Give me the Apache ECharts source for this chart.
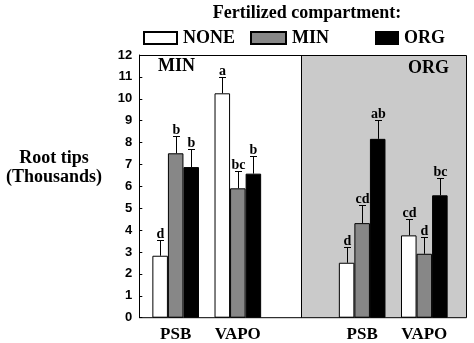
<!DOCTYPE html>
<html>
<head>
<meta charset="utf-8">
<script src="https://cdn.jsdelivr.net/npm/echarts@6/dist/echarts.min.js"></script>
<style>html,body{margin:0;padding:0;background:#fff;}#c{width:474px;height:343px;}</style>
</head>
<body>
<div id="c"></div>
<script>
// ---- data ----
var categories = ['PSB', 'VAPO', '', 'PSB', 'VAPO'];
var seriesNames = ['NONE', 'MIN', 'ORG'];
var noneValues = [2.83, 10.25, null, 2.51, 3.76];
var minValues  = [7.51, 5.91, null, 4.32, 2.92];
var orgValues  = [6.88, 6.58, null, 8.17, 5.59];
var noneSE = [0.72, 0.73, null, 0.70, 0.73];
var minSE  = [0.80, 0.79, null, 0.83, 0.78];
var orgSE  = [0.82, 0.82, null, 0.86, 0.78];
var noneLetters = ['d', 'a', '', 'd', 'cd'];
var minLetters  = ['b', 'bc', '', 'cd', 'd'];
var orgLetters  = ['b', 'b', '', 'ab', 'bc'];
var yTicks = [0,1,2,3,4,5,6,7,8,9,10,11,12];

var values = [noneValues, minValues, orgValues];
var ses = [noneSE, minSE, orgSE];
var letters = [noneLetters, minLetters, orgLetters];
var colors = ['#ffffff', '#878787', '#000000'];
var SERIF = '"Liberation Serif", "Times New Roman", serif';
var CAT_GAP = 0.25;

var chart = echarts.init(document.getElementById('c'), null, {renderer: 'canvas'});

var series = [];
seriesNames.forEach(function (name, g) {
  series.push({
    name: name,
    type: 'bar',
    data: values[g],
    barGap: '0%',
    barCategoryGap: (CAT_GAP * 100) + '%',
    itemStyle: {color: colors[g], borderColor: '#000', borderWidth: 1},
    emphasis: {disabled: true},
    z: 3
  });
});
seriesNames.forEach(function (name, g) {
  series.push({
    type: 'custom',
    name: name + ' err',
    data: values[g].map(function (v, i) { return v == null ? [i, null] : [i, v + ses[g][i]]; }),
    z: 5,
    renderItem: function (params, api) {
      var i = params.dataIndex;
      var v = values[g][i];
      if (v == null) return;
      var band = api.size([1, 0])[0];
      var barW = band * (1 - CAT_GAP) / 3;
      var base = api.coord([i, v]);
      var top = api.coord([i, v + ses[g][i]]);
      var x = Math.round(base[0] + (g - 1) * barW) + 0.5;
      var ty = Math.round(top[1]) + 0.5;
      var half = 3.5;
      return {
        type: 'group',
        children: [
          {type: 'line', shape: {x1: x, y1: base[1], x2: x, y2: ty}, style: {stroke: '#000', lineWidth: 1}},
          {type: 'line', shape: {x1: x - half, y1: ty, x2: x + half, y2: ty}, style: {stroke: '#000', lineWidth: 1}},
          {type: 'text', x: x, y: ty + 1, style: {text: letters[g][i], fill: '#000', font: 'bold 14px ' + SERIF, align: 'center', verticalAlign: 'bottom'}}
        ]
      };
    }
  });
});

var legendBase = {
  orient: 'horizontal', padding: 0, icon: 'rect', itemHeight: 12, selectedMode: false,
  textStyle: {fontFamily: SERIF, fontWeight: 'bold', fontSize: 18, color: '#000', padding: [0,0,0,1]}
};

chart.setOption({
  animation: false,
  backgroundColor: '#fff',
  grid: {left: 144.6, right: 18.6, top: 55, bottom: 25.3, containLabel: false},
  legend: [
    Object.assign({}, legendBase, {data: ['NONE'], left: 143, top: 29, itemWidth: 33}),
    Object.assign({}, legendBase, {data: ['MIN'], left: 250, top: 29, itemWidth: 35}),
    Object.assign({}, legendBase, {data: ['ORG'], left: 375, top: 29, itemWidth: 22})
  ],
  xAxis: {
    type: 'category',
    data: categories,
    axisLine: {show: false},
    axisTick: {show: false},
    axisLabel: {margin: 8, color: '#000', fontFamily: SERIF, fontWeight: 'bold', fontSize: 17, interval: 0}
  },
  yAxis: {
    type: 'value', min: yTicks[0], max: yTicks[yTicks.length - 1], interval: 1,
    offset: 5.3,
    axisLine: {show: true, lineStyle: {color: '#000', width: 1}},
    axisTick: {show: true, inside: true, length: 3, lineStyle: {color: '#000'}},
    splitLine: {show: false},
    axisLabel: {margin: 7, color: '#000', fontFamily: '"Liberation Sans", Arial, sans-serif', fontWeight: 'bold', fontSize: 13}
  },
  graphic: [
    {type: 'rect', z: 0, shape: {x: 301.5, y: 55, width: 165, height: 262.7}, style: {fill: '#cacaca'}},
    {type: 'rect', z: 100, shape: {x: 139.5, y: 55.5, width: 327, height: 262.2}, style: {fill: 'none', stroke: '#000', lineWidth: 1}},
    {type: 'line', z: 100, shape: {x1: 301.5, y1: 55.5, x2: 301.5, y2: 317.7}, style: {stroke: '#000', lineWidth: 1}},
    {type: 'text', z: 100, x: 158, y: 66.5, style: {text: 'MIN', font: 'bold 18px ' + SERIF, fill: '#000', align: 'left', verticalAlign: 'middle'}},
    {type: 'text', z: 100, x: 449, y: 68, style: {text: 'ORG', font: 'bold 18px ' + SERIF, fill: '#000', align: 'right', verticalAlign: 'middle'}},
    {type: 'text', z: 100, x: 307, y: 13, style: {text: 'Fertilized compartment:', font: 'bold 18px ' + SERIF, fill: '#000', align: 'center', verticalAlign: 'middle'}},
    {type: 'text', z: 100, x: 54, y: 149, style: {text: 'Root tips\n(Thousands)', font: 'bold 18px ' + SERIF, lineHeight: 19, fill: '#000', align: 'center', verticalAlign: 'top'}}
  ],
  series: series
});
</script>
</body>
</html>
